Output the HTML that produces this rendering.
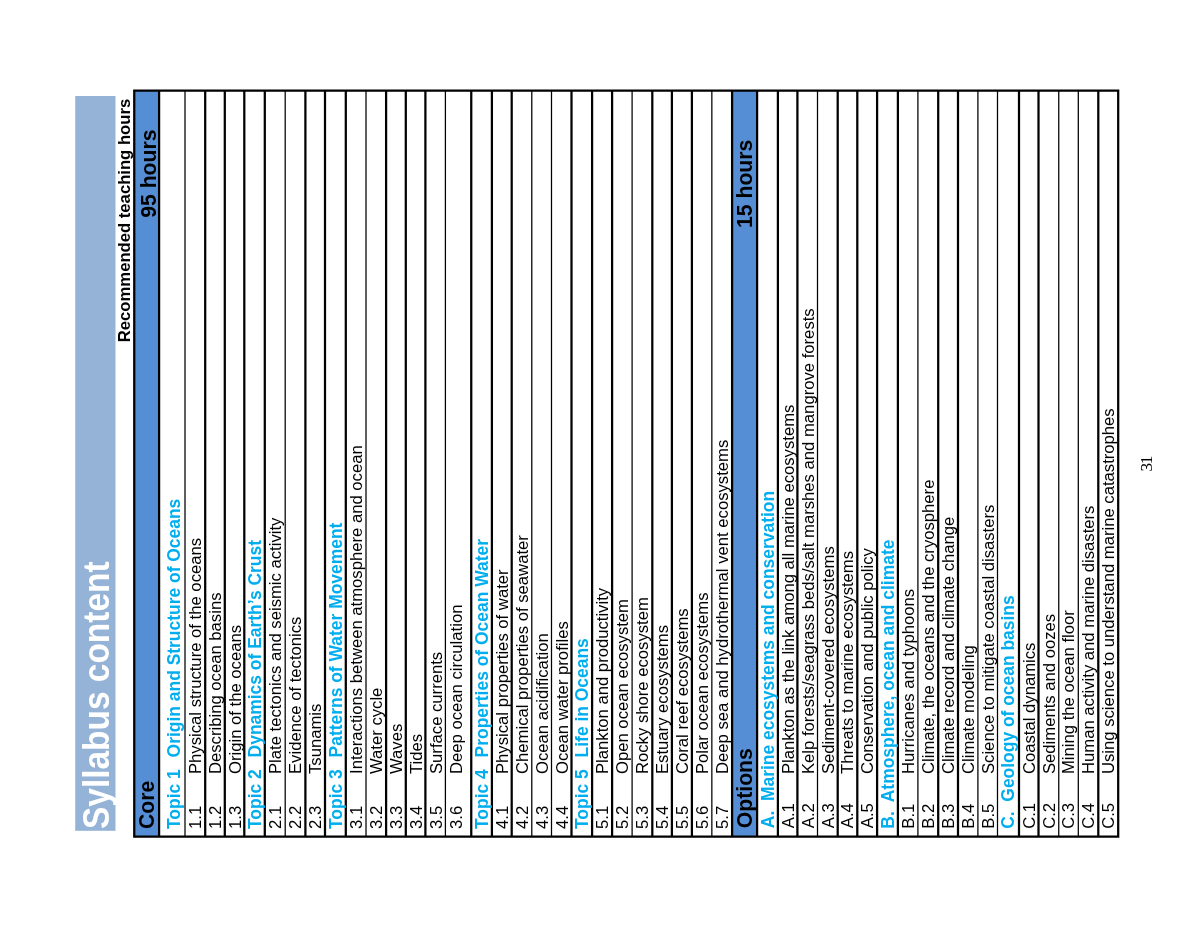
<!DOCTYPE html>
<html lang="en">
<head>
<meta charset="utf-8">
<title>Syllabus content</title>
<style>

html,body{margin:0;padding:0;background:#fff;}
body{width:1200px;height:927px;overflow:hidden;position:relative;font-family:"Liberation Sans",sans-serif;}
#grid{position:absolute;left:0;top:0;width:1200px;height:927px;}
#sheet{position:absolute;left:0;top:0;width:927px;height:1200px;transform-origin:0 0;transform:translateY(927px) rotate(-90deg);will-change:transform;}
#sheet div{position:absolute;white-space:pre;margin:0;padding:0;}
.t{font-size:16.67px;line-height:20px;height:20px;color:#000;}
.t span{font-weight:normal;position:absolute;left:55.00px;top:0;}
.h span{font-weight:bold;position:absolute;left:71.60px;top:0;}
.h{font-size:17.45px;line-height:20px;height:20px;color:#00aeef;font-weight:bold;}
.s{font-size:21.2px;line-height:26px;height:26px;color:#000;font-weight:bold;}
.r{font-size:16.67px;line-height:20px;height:20px;color:#000;font-weight:bold;}
#title{transform:scaleX(0.919);transform-origin:0 0;font-size:36.4px;line-height:40px;height:40px;color:#fff;font-weight:bold;}
#pg{font-family:"Liberation Serif",serif;font-size:17.2px;line-height:20px;letter-spacing:-1.2px;color:#000;}

</style>
</head>
<body>
<svg id="grid" width="1200" height="927" viewBox="0 0 1200 927">
<rect x="75.2" y="96.0" width="40.30" height="734.80" fill="#95b3d7"/>
<rect x="134.25" y="90.6" width="24.85" height="746.00" fill="#558ed5"/>
<rect x="732.1" y="90.6" width="25.00" height="746.00" fill="#558ed5"/>
<path d="M134.25 89.47V837.73M159.1 89.47V837.73M205.2 89.47V837.73M224.8 89.47V837.73M244.3 89.47V837.73M264.8 89.47V837.73M305.4 89.47V837.73M325.0 89.47V837.73M345.8 89.47V837.73M386.1 89.47V837.73M405.8 89.47V837.73M425.4 89.47V837.73M471.25 89.47V837.73M491.9 89.47V837.73M511.7 89.47V837.73M571.5 89.47V837.73M592.1 89.47V837.73M612.1 89.47V837.73M652.3 89.47V837.73M671.9 89.47V837.73M691.9 89.47V837.73M732.1 89.47V837.73M757.1 89.47V837.73M777.9 89.47V837.73M797.4 89.47V837.73M837.7 89.47V837.73M857.3 89.47V837.73M877.1 89.47V837.73M897.9 89.47V837.73M938.2 89.47V837.73M958.0 89.47V837.73M1019.0 89.47V837.73M1038.5 89.47V837.73M1098.3 89.47V837.73M1118.2 89.47V837.73M133.12 90.6H1119.33M133.12 836.6H1119.33" fill="none" stroke="#000" stroke-width="2.25"/>
<path d="M185.0 90.60V836.60M285.2 90.60V836.60M366.0 90.60V836.60M445.4 90.60V836.60M531.8 90.60V836.60M551.5 90.60V836.60M632.1 90.60V836.60M711.85 90.60V836.60M817.5 90.60V836.60M917.9 90.60V836.60M977.9 90.60V836.60M997.5 90.60V836.60M1058.75 90.60V836.60M1078.3 90.60V836.60" fill="none" stroke="#000" stroke-width="1.25"/>
</svg>
<div id="sheet">
<div id="title" style="left:97.70px;top:76.59px">Syllabus content</div>
<div class="r" style="right:98.80px;top:115.22px">Recommended teaching hours</div>
<div class="s" style="left:97.90px;top:134.45px">Core</div>
<div class="s" style="right:129.50px;top:135.85px">95 hours</div>
<div class="h" style="left:98.00px;top:164.25px">Topic 1<span>Origin and Structure of Oceans</span></div>
<div class="t" style="left:98.00px;top:185.82px">1.1<span>Physical structure of the oceans</span></div>
<div class="t" style="left:98.00px;top:205.73px">1.2<span>Describing ocean basins</span></div>
<div class="t" style="left:98.00px;top:225.64px">1.3<span>Origin of the oceans</span></div>
<div class="h" style="left:98.00px;top:245.28px">Topic 2<span>Dynamics of Earth’s Crust</span></div>
<div class="t" style="left:98.00px;top:266.47px">2.1<span>Plate tectonics and seismic activity</span></div>
<div class="t" style="left:98.00px;top:286.38px">2.2<span>Evidence of tectonics</span></div>
<div class="t" style="left:98.00px;top:306.29px">2.3<span>Tsunamis</span></div>
<div class="h" style="left:98.00px;top:325.93px">Topic 3<span>Patterns of Water Movement</span></div>
<div class="t" style="left:98.00px;top:347.12px">3.1<span>Interactions between atmosphere and ocean</span></div>
<div class="t" style="left:98.00px;top:367.03px">3.2<span>Water cycle</span></div>
<div class="t" style="left:98.00px;top:386.94px">3.3<span>Waves</span></div>
<div class="t" style="left:98.00px;top:406.85px">3.4<span>Tides</span></div>
<div class="t" style="left:98.00px;top:426.76px">3.5<span>Surface currents</span></div>
<div class="t" style="left:98.00px;top:446.67px">3.6<span>Deep ocean circulation</span></div>
<div class="h" style="left:98.00px;top:471.69px">Topic 4<span>Properties of Ocean Water</span></div>
<div class="t" style="left:98.00px;top:492.88px">4.1<span>Physical properties of water</span></div>
<div class="t" style="left:98.00px;top:512.79px">4.2<span>Chemical properties of seawater</span></div>
<div class="t" style="left:98.00px;top:532.70px">4.3<span>Ocean acidification</span></div>
<div class="t" style="left:98.00px;top:552.61px">4.4<span>Ocean water profiles</span></div>
<div class="h" style="left:98.00px;top:572.25px">Topic 5<span>Life in Oceans</span></div>
<div class="t" style="left:98.00px;top:593.44px">5.1<span>Plankton and productivity</span></div>
<div class="t" style="left:98.00px;top:613.35px">5.2<span>Open ocean ecosystem</span></div>
<div class="t" style="left:98.00px;top:633.26px">5.3<span>Rocky shore ecosystem</span></div>
<div class="t" style="left:98.00px;top:653.17px">5.4<span>Estuary ecosystems</span></div>
<div class="t" style="left:98.00px;top:673.08px">5.5<span>Coral reef ecosystems</span></div>
<div class="t" style="left:98.00px;top:692.99px">5.6<span>Polar ocean ecosystems</span></div>
<div class="t" style="left:98.00px;top:712.90px">5.7<span>Deep sea and hydrothermal vent ecosystems</span></div>
<div class="s" style="left:98.80px;top:732.25px">Options</div>
<div class="s" style="right:139.70px;top:732.05px">15 hours</div>
<div class="h" style="left:98.85px;top:757.52px">A.  Marine ecosystems and conservation</div>
<div class="t" style="left:98.85px;top:778.71px">A.1<span style="left:54.15px">Plankton as the link among all marine ecosystems</span></div>
<div class="t" style="left:98.85px;top:798.62px">A.2<span style="left:54.15px">Kelp forests/seagrass beds/salt marshes and mangrove forests</span></div>
<div class="t" style="left:98.85px;top:818.53px">A.3<span style="left:54.15px">Sediment-covered ecosystems</span></div>
<div class="t" style="left:98.85px;top:838.44px">A.4<span style="left:54.15px">Threats to marine ecosystems</span></div>
<div class="t" style="left:98.85px;top:858.35px">A.5<span style="left:54.15px">Conservation and public policy</span></div>
<div class="h" style="left:98.30px;top:877.99px">B.  Atmosphere, ocean and climate</div>
<div class="t" style="left:98.30px;top:899.18px">B.1<span style="left:54.70px">Hurricanes and typhoons</span></div>
<div class="t" style="left:98.30px;top:919.09px">B.2<span style="left:54.70px">Climate, the oceans and the cryosphere</span></div>
<div class="t" style="left:98.30px;top:939.00px">B.3<span style="left:54.70px">Climate record and climate change</span></div>
<div class="t" style="left:98.30px;top:958.91px">B.4<span style="left:54.70px">Climate modeling</span></div>
<div class="t" style="left:98.30px;top:978.82px">B.5<span style="left:54.70px">Science to mitigate coastal disasters</span></div>
<div class="h" style="left:98.20px;top:998.46px">C.  Geology of ocean basins</div>
<div class="t" style="left:98.20px;top:1019.65px">C.1<span style="left:54.80px">Coastal dynamics</span></div>
<div class="t" style="left:98.20px;top:1039.56px">C.2<span style="left:54.80px">Sediments and oozes</span></div>
<div class="t" style="left:98.20px;top:1059.47px">C.3<span style="left:54.80px">Mining the ocean floor</span></div>
<div class="t" style="left:98.20px;top:1079.38px">C.4<span style="left:54.80px">Human activity and marine disasters</span></div>
<div class="t" style="left:98.20px;top:1099.29px">C.5<span style="left:54.80px">Using science to understand marine catastrophes</span></div>
<div id="pg" style="left:455.4px;top:1137.49px">31</div>
</div>
</body>
</html>
